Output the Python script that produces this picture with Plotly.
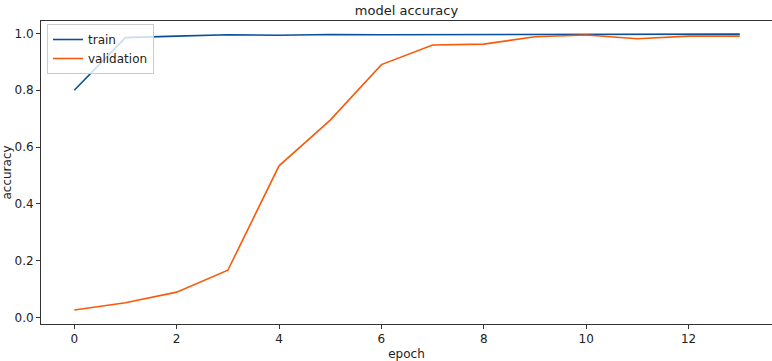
import plotly.graph_objects as go

epochs = list(range(14))
train_acc = [0.800, 0.985, 0.990, 0.995, 0.993, 0.996, 0.995, 0.995, 0.997, 0.996, 0.997, 0.997, 0.997, 0.997]
val_acc = [0.027, 0.053, 0.090, 0.167, 0.534, 0.695, 0.890, 0.959, 0.962, 0.988, 0.994, 0.981, 0.990, 0.990]

FONT = "DejaVu Sans"
AX = "#333333"

fig = go.Figure()
fig.add_trace(go.Scatter(x=epochs, y=train_acc, mode="lines", name="train",
                         line=dict(color="#0a4f9c", width=1.6)))
fig.add_trace(go.Scatter(x=epochs, y=val_acc, mode="lines", name="validation",
                         line=dict(color="#f85a0a", width=1.6)))

fig.update_layout(
    width=772, height=361,
    margin=dict(l=41, r=0, t=21, b=37),
    paper_bgcolor="white", plot_bgcolor="white",
    font=dict(family=FONT, size=12, color="#222"),
    title=dict(text="model accuracy", x=0.5, xanchor="center", xref="paper",
               y=1 - 10 / 361, yanchor="middle", font=dict(size=13, family=FONT, color="#222")),
    showlegend=True,
    legend=dict(x=6 / 731, y=1 - 3 / 303, xanchor="left", yanchor="top",
                bgcolor="rgba(255,255,255,0.8)", bordercolor="#cccccc", borderwidth=1,
                font=dict(size=12, family=FONT, color="#222"), tracegroupgap=0,
                itemwidth=30),
)
fig.update_xaxes(range=[-0.65, 13.63], tickmode="array", tickvals=[0, 2, 4, 6, 8, 10, 12],
                 showgrid=False, zeroline=False, showline=True, linecolor=AX, linewidth=1,
                 mirror=True, ticks="outside", ticklen=4, tickcolor=AX,
                 title=dict(text="epoch", font=dict(size=12, family=FONT), standoff=6))
fig.update_yaxes(range=[-0.022, 1.0433], tickmode="array", tickvals=[0, 0.2, 0.4, 0.6, 0.8, 1.0],
                 tickformat=".1f",
                 showgrid=False, zeroline=False, showline=True, linecolor=AX, linewidth=1,
                 ticks="outside", ticklen=4, tickcolor=AX,
                 title=dict(text="accuracy", font=dict(size=12, family=FONT), standoff=4))

fig.write_html("out.html")
